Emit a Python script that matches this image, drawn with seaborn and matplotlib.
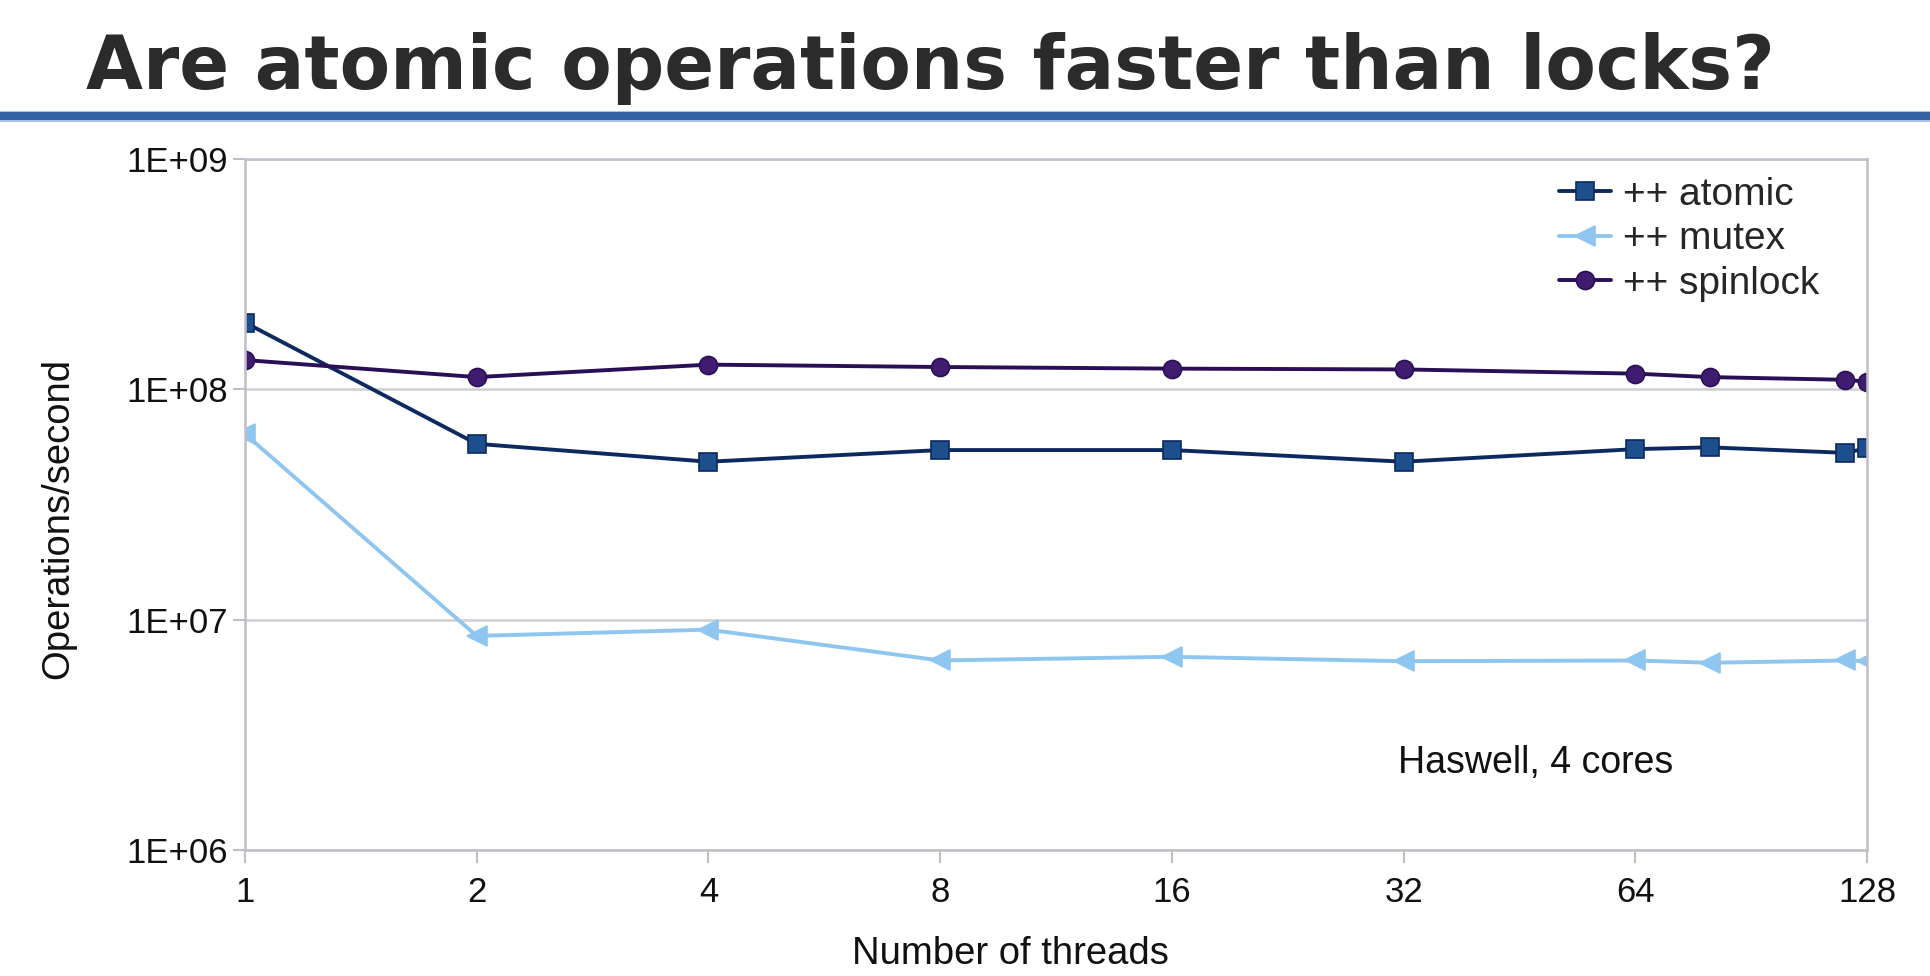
"""
Atomic vs mutex vs spinlock increments, ops/sec against thread count (Haswell, 4 cores).
"""
import numpy as np
import pandas as pd
import matplotlib
matplotlib.use("Agg")
import matplotlib.pyplot as plt
from matplotlib.patches import Rectangle
from matplotlib.ticker import FixedLocator, FuncFormatter, NullLocator
import seaborn as sns

# ── data ──────────────────────────────────────────────────
threads = [1, 2, 4, 8, 16, 32, 64, 80, 120, 128]
atomic_ops = [1.95e8, 5.8e7, 4.85e7, 5.45e7, 5.45e7, 4.85e7, 5.5e7, 5.6e7, 5.3e7, 5.55e7]
mutex_ops = [6.4e7, 8.5e6, 9.05e6, 6.65e6, 6.9e6, 6.6e6, 6.65e6, 6.5e6, 6.65e6, 6.6e6]
spinlock_ops = [1.34e8, 1.13e8, 1.28e8, 1.25e8, 1.23e8, 1.22e8, 1.17e8, 1.13e8, 1.10e8, 1.08e8]

series_names = ["++ atomic", "++ mutex", "++ spinlock"]
x_ticks = [1, 2, 4, 8, 16, 32, 64, 128]
y_ticks = [1e6, 1e7, 1e8, 1e9]

df = pd.DataFrame({
    "threads": threads * 3,
    "ops": atomic_ops + mutex_ops + spinlock_ops,
    "series": np.repeat(series_names, len(threads)),
})

# ── style ────────────────────────────────────────────────
sns.set_style("white")
plt.rcParams["font.family"] = ["Liberation Sans", "DejaVu Sans"]

styles = {
    "++ atomic":   dict(color="#0d2a60", marker="s", mfc="#1d4f8c", mec="#0d2a60", ms=13),
    "++ mutex":    dict(color="#8fc6f0", marker="<", mfc="#8fc6f0", mec="#8fc6f0", ms=15),
    "++ spinlock": dict(color="#2a0e56", marker="o", mfc="#3f1c70", mec="#2a0e56", ms=13),
}

fig = plt.figure(figsize=(19.30, 9.76), dpi=100)
ax = fig.add_axes([245 / 1930, 1 - 850 / 976, (1867 - 245) / 1930, (850 - 159) / 976])

for name in series_names:
    st = styles[name]
    sns.lineplot(data=df[df["series"] == name], x="threads", y="ops", ax=ax,
                 label=name, color=st["color"], marker=st["marker"],
                 markerfacecolor=st["mfc"], markeredgecolor=st["mec"],
                 markersize=st["ms"], markeredgewidth=1.2, linewidth=2.8,
                 errorbar=None, estimator=None, sort=True)

# ── axes ─────────────────────────────────────────────────
ax.set_xscale("log", base=2)
ax.set_yscale("log")
ax.set_xlim(1, 128)
ax.set_ylim(1e6, 1e9)

ax.xaxis.set_major_locator(FixedLocator(x_ticks))
ax.xaxis.set_minor_locator(NullLocator())
ax.xaxis.set_major_formatter(FuncFormatter(lambda v, p: f"{int(round(v))}"))
ax.yaxis.set_major_locator(FixedLocator(y_ticks))
ax.yaxis.set_minor_locator(NullLocator())
ax.yaxis.set_major_formatter(FuncFormatter(lambda v, p: f"1E+{int(round(np.log10(v))):02d}"))

frame_col = "#c0bfc8"
for sp in ax.spines.values():
    sp.set_color(frame_col)
    sp.set_linewidth(1.8)
ax.yaxis.grid(True, color="#cfcfd4", linewidth=1.8)
ax.xaxis.grid(False)
ax.set_axisbelow(True)
ax.tick_params(axis="both", which="major", direction="out", length=9, width=1.5,
               color=frame_col, labelsize=25, labelcolor="#111111",
               left=True, bottom=True)
ax.tick_params(axis="y", pad=3)
ax.tick_params(axis="x", pad=10)

ax.set_xlabel("Number of threads", fontsize=27.5, color="#111111")
ax.set_ylabel("Operations/second", fontsize=27.5, color="#111111")
ax.xaxis.set_label_coords(0.472, -0.150)
ax.xaxis.label.set_verticalalignment("center")
ax.yaxis.set_label_coords(-0.115, 0.480)
ax.yaxis.label.set_verticalalignment("center")

ax.legend(loc="upper right", bbox_to_anchor=(0.985, 1.008), frameon=False,
          fontsize=28, handlelength=1.35, handletextpad=0.3, labelspacing=0.22,
          borderaxespad=0.2)

ax.text(0.796, 0.126, "Haswell, 4 cores", transform=ax.transAxes,
        ha="center", va="center", fontsize=27, color="#111111")

# ── slide header ─────────────────────────────────────────
fig.text(86 / 1930, 1 - 89 / 976, "Are atomic operations faster than locks?",
         fontsize=53, fontweight="bold", color="#2b2b2b",
         family=["DejaVu Sans"], ha="left", va="baseline")
fig.add_artist(Rectangle((0, 1 - 122 / 976), 1, 11 / 976, transform=fig.transFigure,
                         color="#a9c4e6", lw=0))
fig.add_artist(Rectangle((0, 1 - 120 / 976), 1, 8 / 976, transform=fig.transFigure,
                         color="#3562a5", lw=0))

fig.savefig("out.png", dpi=100, facecolor="white")
